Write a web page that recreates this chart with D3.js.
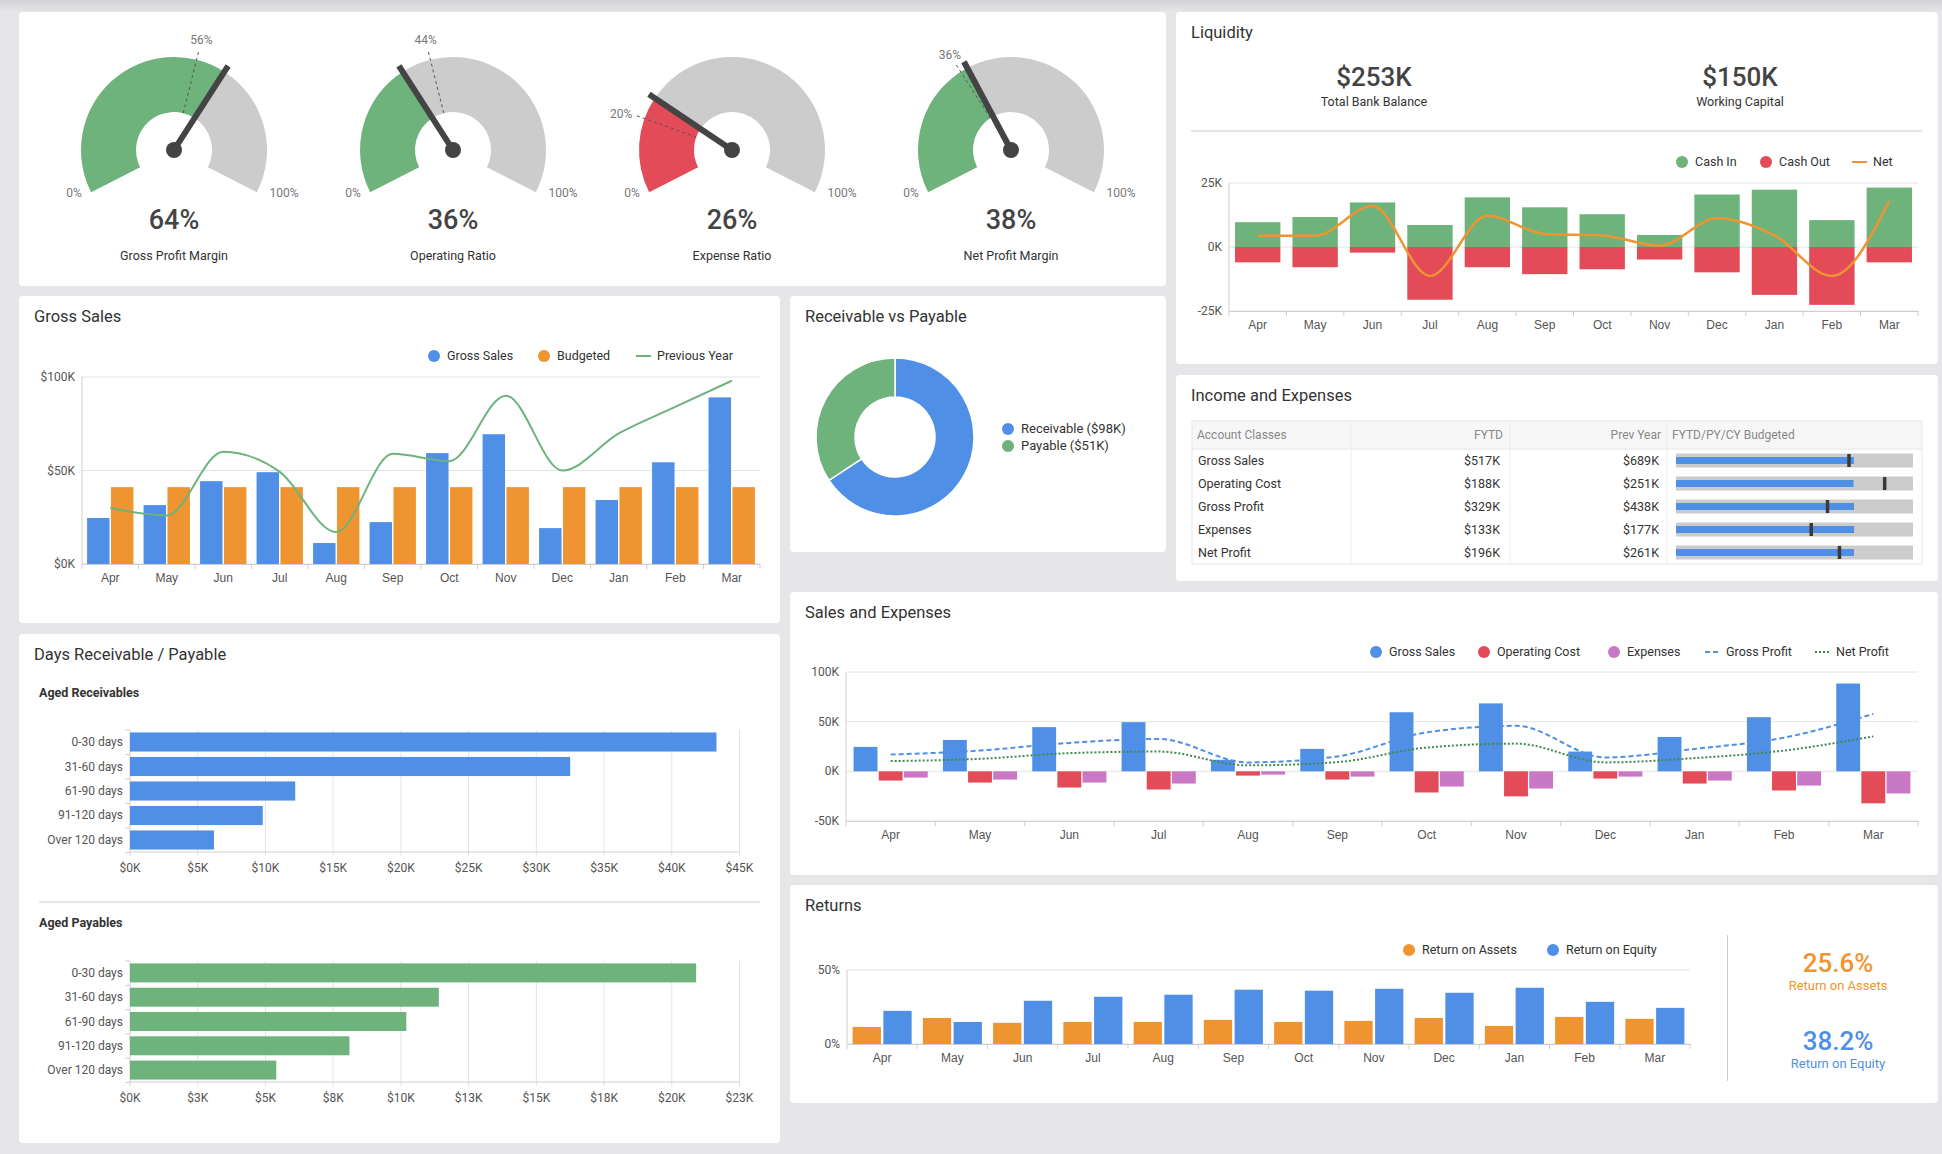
<!DOCTYPE html>
<html><head><meta charset="utf-8">
<script src="https://cdn.jsdelivr.net/npm/d3@7"></script>
<style>
html,body{margin:0;padding:0;background:#e6e6e9;}
svg{display:block;font-family:Roboto,"Open Sans",sans-serif;}
</style></head><body>
<svg id="c" width="1942" height="1154"></svg>
<script>
// ---------------- DATA ----------------
const months = ["Apr","May","Jun","Jul","Aug","Sep","Oct","Nov","Dec","Jan","Feb","Mar"];

const gaugeLabels = ["Gross Profit Margin","Operating Ratio","Expense Ratio","Net Profit Margin"];
const gaugeValues = [64,36,26,38];
const gaugeTargets = [56,44,20,36];
const gaugeKinds = ["good","good","bad","good"];

const bankBalance = "$253K";
const workingCapital = "$150K";
const cashIn  = [9.7,11.7,17.4,8.6,19.4,15.5,12.8,4.7,20.5,22.4,10.5,23.2];
const cashOut = [-6.0,-7.9,-2.2,-20.6,-7.9,-10.6,-8.7,-4.9,-9.9,-18.7,-22.6,-6.0];
const netCash = [4.4,4.4,16.0,-11.3,12.2,5.1,4.5,0.5,11.2,4.5,-11.3,17.9];
const liquidityTicks = [-25,0,25];

const grossSales   = [24.6,31.5,44.3,49.1,11.2,22.4,59.3,69.4,19.2,34.2,54.4,89.1];
const budgeted     = [41.1,41.1,41.1,41.1,41.1,41.1,41.1,41.1,41.1,41.1,41.1,41.1];
const previousYear = [29.9,26.0,60.0,49.3,17.1,58.9,55.0,90.0,50.0,69.8,84.0,98.0];
const grossSalesTicks = [0,50,100];

const rpLabels = ["Receivable ($98K)","Payable ($51K)"];
const rpValues = [98,51];

const accountClasses = ["Gross Sales","Operating Cost","Gross Profit","Expenses","Net Profit"];
const fytd     = [517,188,329,133,196];
const prevYr   = [689,251,438,177,261];
const cyBudget = [503,221,280,101,180];

const ageBuckets = ["0-30 days","31-60 days","61-90 days","91-120 days","Over 120 days"];
const agedReceivables = [43.3,32.5,12.2,9.8,6.2];
const agedPayables    = [20.9,11.4,10.2,8.1,5.4];
const receivableTicks = [0,5,10,15,20,25,30,35,40,45];
const payableTicks    = [0,2.5,5,7.5,10,12.5,15,17.5,20,22.5];

const seGrossSales = [24.6,31.6,44.5,49.5,11.6,22.6,59.5,68.4,19.9,34.6,54.5,88.4];
const seOpCost     = [-9.3,-11.3,-16.3,-18.3,-4.3,-8.3,-21.3,-25.2,-7.3,-12.3,-19.3,-32.2];
const seExpenses   = [-6.3,-8.3,-11.3,-12.3,-3.3,-5.3,-15.3,-17.3,-5.3,-9.3,-14.3,-22.3];
const seGrossProfit= [16.9,20.9,28.6,32.6,9.0,15.0,39.2,45.8,14.0,22.6,33.9,57.8];
const seNetProfit  = [10.3,12.6,18.3,19.9,6.0,9.3,23.9,27.9,9.0,13.3,20.9,35.2];
const seTicks = [-50,0,50,100];

const roa = [11.5,17.6,14.3,14.9,14.9,16.3,14.9,15.6,17.6,12.2,18.3,17.0];
const roe = [22.4,14.9,29.2,31.9,33.3,36.7,36.0,37.3,34.6,38.0,28.5,24.4];
const returnTicks = [0,50];
const roaTotal = "25.6%";
const roeTotal = "38.2%";

// ---------------- STYLE ----------------
const C = {blue:"#4f8fe6", orange:"#ee9431", green:"#6db37b", red:"#e34b58", pink:"#c878c4",
           grey:"#cccccc", dark:"#444", text:"#333", tick:"#555", grid:"#e4e4e4", axis:"#cfcfcf"};
const TICK = 12, LEG = 12.5;
const svg = d3.select("#c");

const defs = svg.append("defs");
const lg = defs.append("linearGradient").attr("id","topShade").attr("x1",0).attr("x2",0).attr("y1",0).attr("y2",1);
lg.append("stop").attr("offset",0).attr("stop-color","#d2d2d5");
lg.append("stop").attr("offset",1).attr("stop-color","#e6e6e9");
svg.append("rect").attr("width",1942).attr("height",1154).attr("fill","#e6e6e9");
svg.append("rect").attr("width",1942).attr("height",12).attr("fill","url(#topShade)");

function panel(x,y,w,h,title){
  const g = svg.append("g");
  g.append("rect").attr("x",x).attr("y",y).attr("width",w).attr("height",h).attr("rx",4).attr("fill","#fff");
  if(title) g.append("text").attr("x",x+15).attr("y",y+26).attr("font-size",16.5).attr("fill",C.text).text(title);
  return g;
}
function txt(g,x,y,s,opts={}){
  const t = g.append("text").attr("x",x).attr("y",y).text(s)
    .attr("font-size",opts.size||12).attr("fill",opts.fill||C.text)
    .attr("text-anchor",opts.anchor||"start");
  if(opts.weight) t.attr("font-weight",opts.weight);
  return t;
}
function legendDot(g,cx,cy,color,label){
  g.append("circle").attr("cx",cx).attr("cy",cy).attr("r",6).attr("fill",color);
  txt(g,cx+13,cy+4,label,{size:LEG});
}
function legendLine(g,x,cy,color,label,dash){
  const l = g.append("line").attr("x1",x).attr("x2",x+15).attr("y1",cy).attr("y2",cy).attr("stroke",color).attr("stroke-width",2);
  if(dash) l.attr("stroke-dasharray",dash);
  txt(g,x+21,cy+4,label,{size:LEG});
}
function bandAxis(g,x,yPos){
  const ax = g.append("g").attr("transform",`translate(0,${yPos})`)
    .call(d3.axisBottom(x).tickSize(0).tickSizeOuter(0).tickPadding(9));
  ax.select(".domain").attr("stroke",C.axis);
  ax.selectAll("text").attr("font-size",TICK).attr("fill",C.tick).attr("font-family",null);
  const step = x.step();
  const r = x.range();
  d3.range(months.length+1).forEach(i=>{
    const xx = r[0]+i*step;
    g.append("line").attr("x1",xx).attr("x2",xx).attr("y1",yPos).attr("y2",yPos+5).attr("stroke",C.axis);
  });
}
function yGrid(g,y,ticks,x0,x1,fmt){
  ticks.forEach(t=>{
    g.append("line").attr("x1",x0).attr("x2",x1).attr("y1",y(t)).attr("y2",y(t))
      .attr("stroke",C.grid).attr("stroke-width",1);
    txt(g,x0-7,y(t)+4,fmt(t),{size:TICK,fill:C.tick,anchor:"end"});
  });
  g.append("line").attr("x1",x0).attr("x2",x0).attr("y1",y.range()[0]).attr("y2",y.range()[1]).attr("stroke",C.axis);
}

// ---------------- GAUGES ----------------
(function(){
  const p = panel(19,12,1147,274,null);
  const a0 = -117*Math.PI/180, a1 = 117*Math.PI/180;
  const ang = d3.scaleLinear().domain([0,100]).range([a0,a1]);
  const arc = d3.arc().innerRadius(38).outerRadius(93);
  gaugeValues.forEach((v,i)=>{
    const cx = 592.5+(i-1.5)*279, cy = 150;
    const g = p.append("g").attr("transform",`translate(${cx},${cy})`);
    const col = gaugeKinds[i]==="good"?C.green:C.red;
    g.append("path").attr("d",arc({startAngle:ang(v),endAngle:a1})).attr("fill",C.grey);
    g.append("path").attr("d",arc({startAngle:a0,endAngle:ang(v)})).attr("fill",col);
    const ta = ang(gaugeTargets[i]);
    g.append("line").attr("x1",38*Math.sin(ta)).attr("y1",-38*Math.cos(ta))
      .attr("x2",101*Math.sin(ta)).attr("y2",-101*Math.cos(ta))
      .attr("stroke","#555").attr("stroke-dasharray","3,3").attr("stroke-width",1);
    const deg = ta*180/Math.PI;
    const rr = Math.abs(deg)>50?106:113;
    const anchor = deg<-50?"end":(deg>50?"start":"middle");
    txt(g,rr*Math.sin(ta),-rr*Math.cos(ta)+4,gaugeTargets[i]+"%",{size:12,fill:"#777",anchor});
    const va = ang(v);
    g.append("line").attr("x1",0).attr("y1",0).attr("x2",100*Math.sin(va)).attr("y2",-100*Math.cos(va))
      .attr("stroke",C.dark).attr("stroke-width",6);
    g.append("circle").attr("r",8).attr("fill",C.dark);
    txt(g,-100,47,"0%",{size:12,fill:"#777",anchor:"middle"});
    txt(g,110,47,"100%",{size:12,fill:"#777",anchor:"middle"});
    txt(g,0,79,v+"%",{size:27,fill:C.dark,anchor:"middle",weight:500});
    txt(g,0,110,gaugeLabels[i],{size:12.5,fill:C.text,anchor:"middle"});
  });
})();

// ---------------- LIQUIDITY ----------------
(function(){
  const p = panel(1176,12,762,352,"Liquidity");
  txt(p,1374,86,bankBalance,{size:26,fill:C.dark,anchor:"middle",weight:500});
  txt(p,1374,106,"Total Bank Balance",{size:12.5,anchor:"middle"});
  txt(p,1740,86,workingCapital,{size:26,fill:C.dark,anchor:"middle",weight:500});
  txt(p,1740,106,"Working Capital",{size:12.5,anchor:"middle"});
  p.append("line").attr("x1",1191).attr("x2",1922).attr("y1",131).attr("y2",131).attr("stroke","#ccc");
  legendDot(p,1682,162,C.green,"Cash In");
  legendDot(p,1766,162,C.red,"Cash Out");
  legendLine(p,1852,162,C.orange,"Net");
  const x = d3.scaleBand().domain(months).range([1229,1918]).paddingInner(0.21).paddingOuter(0.105);
  const y = d3.scaleLinear().domain([-25,25]).range([311,183]);
  yGrid(p,y,liquidityTicks,1229,1918,d=>d+"K");
  p.selectAll(".cin").data(months).enter().append("rect")
    .attr("x",d=>x(d)).attr("width",x.bandwidth())
    .attr("y",(d,i)=>y(cashIn[i])).attr("height",(d,i)=>y(0)-y(cashIn[i])).attr("fill",C.green);
  p.selectAll(".cout").data(months).enter().append("rect")
    .attr("x",d=>x(d)).attr("width",x.bandwidth())
    .attr("y",y(0)).attr("height",(d,i)=>y(cashOut[i])-y(0)).attr("fill",C.red);
  const line = d3.line().x((d,i)=>x(months[i])+x.bandwidth()/2).y(d=>y(d)).curve(d3.curveMonotoneX);
  p.append("path").attr("d",line(netCash)).attr("fill","none").attr("stroke",C.orange).attr("stroke-width",2.5);
  bandAxis(p,x,311);
})();

// ---------------- GROSS SALES ----------------
(function(){
  const p = panel(19,296,761,327,"Gross Sales");
  legendDot(p,434,356,C.blue,"Gross Sales");
  legendDot(p,544,356,C.orange,"Budgeted");
  legendLine(p,636,356,C.green,"Previous Year");
  const x = d3.scaleBand().domain(months).range([82,760]).paddingInner(0.18).paddingOuter(0.09);
  const x1 = d3.scaleBand().domain([0,1]).range([0,x.bandwidth()]).paddingInner(0.06);
  const y = d3.scaleLinear().domain([0,100]).range([564,377]);
  yGrid(p,y,grossSalesTicks,82,760,d=>"$"+d+"K");
  p.selectAll(".gs").data(months).enter().append("rect")
    .attr("x",d=>x(d)+x1(0)).attr("width",x1.bandwidth())
    .attr("y",(d,i)=>y(grossSales[i])).attr("height",(d,i)=>y(0)-y(grossSales[i])).attr("fill",C.blue);
  p.selectAll(".bd").data(months).enter().append("rect")
    .attr("x",d=>x(d)+x1(1)).attr("width",x1.bandwidth())
    .attr("y",(d,i)=>y(budgeted[i])).attr("height",(d,i)=>y(0)-y(budgeted[i])).attr("fill",C.orange);
  const line = d3.line().x((d,i)=>x(months[i])+x.bandwidth()/2).y(d=>y(d)).curve(d3.curveMonotoneX);
  p.append("path").attr("d",line(previousYear)).attr("fill","none").attr("stroke",C.green).attr("stroke-width",2);
  bandAxis(p,x,564);
})();

// ---------------- RECEIVABLE VS PAYABLE ----------------
(function(){
  const p = panel(790,296,376,256,"Receivable vs Payable");
  const pie = d3.pie().sort(null)(rpValues);
  const arc = d3.arc().innerRadius(40).outerRadius(79);
  const g = p.append("g").attr("transform","translate(895,437)");
  g.selectAll("path").data(pie).enter().append("path").attr("d",arc)
    .attr("fill",(d,i)=>i===0?C.blue:C.green).attr("stroke","#fff").attr("stroke-width",1.5);
  rpLabels.forEach((l,i)=>{
    p.append("circle").attr("cx",1008).attr("cy",429+i*17).attr("r",6).attr("fill",i===0?C.blue:C.green);
    txt(p,1021,433+i*17,l,{size:13});
  });
})();

// ---------------- INCOME AND EXPENSES ----------------
(function(){
  const p = panel(1176,375,762,206,"Income and Expenses");
  const cols = [1192,1351,1510,1667,1922];
  const top = 421, hh = 28, rh = 23;
  const bottom = top+hh+rh*accountClasses.length;
  p.append("rect").attr("x",cols[0]).attr("y",top).attr("width",cols[4]-cols[0]).attr("height",hh).attr("fill","#f7f7f7");
  p.append("rect").attr("x",cols[0]).attr("y",top).attr("width",cols[4]-cols[0]).attr("height",bottom-top)
    .attr("fill","none").attr("stroke","#e6e6e6");
  p.append("line").attr("x1",cols[0]).attr("x2",cols[4]).attr("y1",top+hh).attr("y2",top+hh).attr("stroke","#e6e6e6");
  [1,2,3].forEach(i=>p.append("line").attr("x1",cols[i]).attr("x2",cols[i]).attr("y1",top).attr("y2",bottom).attr("stroke","#ececec"));
  const hy = top+hh/2+4;
  txt(p,cols[0]+5,hy,"Account Classes",{size:12,fill:"#888"});
  txt(p,cols[2]-7,hy,"FYTD",{size:12,fill:"#888",anchor:"end"});
  txt(p,cols[3]-6,hy,"Prev Year",{size:12,fill:"#888",anchor:"end"});
  txt(p,cols[3]+5,hy,"FYTD/PY/CY Budgeted",{size:12,fill:"#888"});
  accountClasses.forEach((a,i)=>{
    const cy = top+hh+rh*i+rh/2;
    txt(p,cols[0]+6,cy+4,a,{size:12.5});
    txt(p,cols[2]-10,cy+4,"$"+fytd[i]+"K",{size:12.5,anchor:"end"});
    txt(p,cols[3]-8,cy+4,"$"+prevYr[i]+"K",{size:12.5,anchor:"end"});
    const bx = d3.scaleLinear().domain([0,prevYr[i]]).range([1676,1913]);
    p.append("rect").attr("x",bx(0)).attr("y",cy-7).attr("width",bx(prevYr[i])-bx(0)).attr("height",14).attr("fill","#cccccc");
    p.append("rect").attr("x",bx(0)).attr("y",cy-3.5).attr("width",bx(fytd[i])-bx(0)).attr("height",7).attr("fill",C.blue);
    p.append("rect").attr("x",bx(cyBudget[i])-1.75).attr("y",cy-6.5).attr("width",3.5).attr("height",13).attr("fill","#3a3a3a");
  });
})();

// ---------------- DAYS RECEIVABLE / PAYABLE ----------------
(function(){
  const p = panel(19,634,761,509,"Days Receivable / Payable");
  function hbar(title,titleY,vals,ticks,y0,y1,color){
    txt(p,39,titleY,title,{size:12.5,weight:700});
    const x = d3.scaleLinear().domain([ticks[0],ticks[ticks.length-1]]).range([130,739.5]);
    const y = d3.scaleBand().domain(ageBuckets).range([y0,y1]).paddingInner(0.22).paddingOuter(0.1);
    ticks.forEach(t=>{
      p.append("line").attr("x1",x(t)).attr("x2",x(t)).attr("y1",y0).attr("y2",y1+4).attr("stroke",t===0?C.axis:C.grid);
      txt(p,x(t),y1+20,"$"+Math.round(t)+"K",{size:TICK,fill:C.tick,anchor:"middle"});
    });
    p.append("line").attr("x1",130).attr("x2",739.5).attr("y1",y1).attr("y2",y1).attr("stroke",C.axis);
    const step = y.step();
    d3.range(ageBuckets.length+1).forEach(i=>{
      const yy = y0+i*step;
      p.append("line").attr("x1",125).attr("x2",130).attr("y1",yy).attr("y2",yy).attr("stroke",C.axis);
    });
    ageBuckets.forEach((b,i)=>{
      p.append("rect").attr("x",x(0)).attr("y",y(b)).attr("width",x(vals[i])-x(0)).attr("height",y.bandwidth()).attr("fill",color);
      txt(p,123,y(b)+y.bandwidth()/2+4,b,{size:TICK,fill:C.tick,anchor:"end"});
    });
  }
  hbar("Aged Receivables",697,agedReceivables,receivableTicks,730,852,C.blue);
  p.append("line").attr("x1",39).attr("x2",760).attr("y1",902).attr("y2",902).attr("stroke","#ccc");
  hbar("Aged Payables",927,agedPayables,payableTicks,961,1082,C.green);
})();

// ---------------- SALES AND EXPENSES ----------------
(function(){
  const p = panel(790,592,1148,283,"Sales and Expenses");
  legendDot(p,1376,652,C.blue,"Gross Sales");
  legendDot(p,1484,652,C.red,"Operating Cost");
  legendDot(p,1614,652,C.pink,"Expenses");
  legendLine(p,1705,652,C.blue,"Gross Profit","5,3");
  legendLine(p,1815,652,"#3f8a4b","Net Profit","2,2");
  const x = d3.scaleBand().domain(months).range([846,1918]).paddingInner(0.17).paddingOuter(0.085);
  const x1 = d3.scaleBand().domain([0,1,2]).range([0,x.bandwidth()]).paddingInner(0.05);
  const y = d3.scaleLinear().domain([-50,100]).range([821,672]);
  yGrid(p,y,seTicks,846,1918,d=>d+"K");
  [[seGrossSales,C.blue],[seOpCost,C.red],[seExpenses,C.pink]].forEach(([vals,col],k)=>{
    p.selectAll(".s"+k).data(months).enter().append("rect")
      .attr("x",d=>x(d)+x1(k)).attr("width",x1.bandwidth())
      .attr("y",(d,i)=>y(Math.max(0,vals[i]))).attr("height",(d,i)=>Math.abs(y(vals[i])-y(0))).attr("fill",col);
  });
  const line = d3.line().x((d,i)=>x(months[i])+x.bandwidth()/2).y(d=>y(d)).curve(d3.curveMonotoneX);
  p.append("path").attr("d",line(seGrossProfit)).attr("fill","none").attr("stroke",C.blue).attr("stroke-width",2).attr("stroke-dasharray","5,3");
  p.append("path").attr("d",line(seNetProfit)).attr("fill","none").attr("stroke","#3f8a4b").attr("stroke-width",2).attr("stroke-dasharray","2,2");
  bandAxis(p,x,821);
})();

// ---------------- RETURNS ----------------
(function(){
  const p = panel(790,885,1148,218,"Returns");
  legendDot(p,1409,950,C.orange,"Return on Assets");
  legendDot(p,1553,950,C.blue,"Return on Equity");
  const x = d3.scaleBand().domain(months).range([847,1690]).paddingInner(0.16).paddingOuter(0.08);
  const x1 = d3.scaleBand().domain([0,1]).range([0,x.bandwidth()]).paddingInner(0.08);
  const y = d3.scaleLinear().domain([0,50]).range([1044,970]);
  yGrid(p,y,returnTicks,847,1690,d=>d+"%");
  [[roa,C.orange],[roe,C.blue]].forEach(([vals,col],k)=>{
    p.selectAll(".r"+k).data(months).enter().append("rect")
      .attr("x",d=>x(d)+x1(k)).attr("width",x1.bandwidth())
      .attr("y",(d,i)=>y(vals[i])).attr("height",(d,i)=>y(0)-y(vals[i])).attr("fill",col);
  });
  bandAxis(p,x,1044);
  p.append("line").attr("x1",1727.5).attr("x2",1727.5).attr("y1",935).attr("y2",1081).attr("stroke","#ccc");
  txt(p,1838,972,roaTotal,{size:26,fill:C.orange,anchor:"middle",weight:500});
  txt(p,1838,990,"Return on Assets",{size:13,fill:C.orange,anchor:"middle"});
  txt(p,1838,1050,roeTotal,{size:26,fill:C.blue,anchor:"middle",weight:500});
  txt(p,1838,1068,"Return on Equity",{size:13,fill:C.blue,anchor:"middle"});
})();
</script>
</body></html>
